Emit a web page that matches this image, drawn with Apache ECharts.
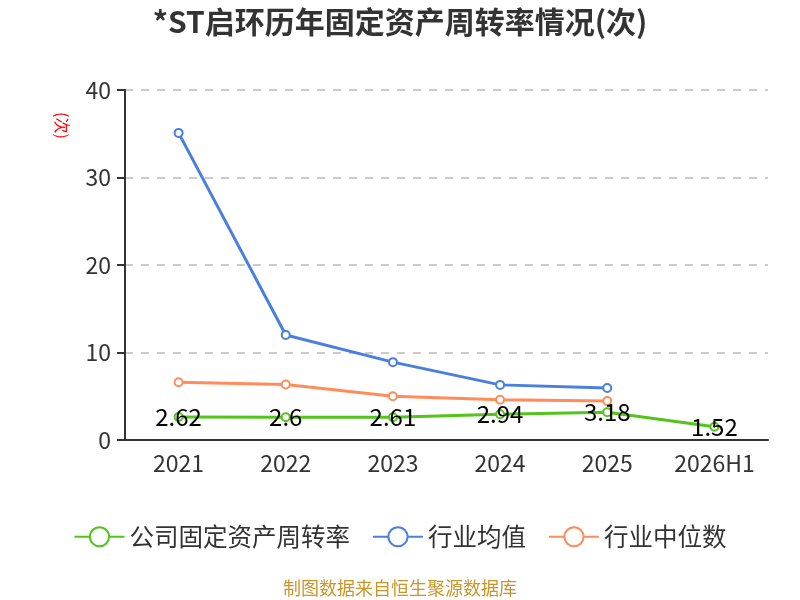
<!DOCTYPE html>
<html>
<head>
<meta charset="utf-8">
<script src="https://cdn.jsdelivr.net/npm/echarts@6/dist/echarts.min.js"></script>
<style>
  html, body { margin: 0; padding: 0; background: #fff; }
  #main { width: 800px; height: 600px; }
</style>
</head>
<body>
<div id="main"></div>
<script>
var years = ['2021', '2022', '2023', '2024', '2025', '2026H1'];
var companyRate = [2.62, 2.6, 2.61, 2.94, 3.18, 1.52];
var industryAvg = [35.1, 12.0, 8.9, 6.3, 5.95, null];
var industryMedian = [6.6, 6.35, 5.0, 4.6, 4.45, null];
var yTicks = [0, 10, 20, 30, 40];

// 初始化图表
var myChart = echarts.init(document.getElementById('main'));
var fontCN = '"Noto Sans CJK SC", "Noto Sans", sans-serif';

var option = {
    backgroundColor: '#fff',
    title: {
        text: '*ST启环历年固定资产周转率情况(次)',
        left: 'center',
        top: 2,
        textStyle: { fontSize: 30, fontWeight: 'bold', color: '#333', fontFamily: fontCN }
    },
    legend: {
        bottom: 46,
        itemWidth: 50,
        itemHeight: 24,
        itemGap: 22,
        textStyle: { fontSize: 24.5, color: '#333', fontFamily: fontCN },
        data: ['公司固定资产周转率', '行业均值', '行业中位数']
    },
    graphic: [
        {
            type: 'text',
            left: 54,
            top: 112,
            rotation: -Math.PI / 2,
            style: { text: '(次)', fill: '#ff0000', fontSize: 16, fontFamily: fontCN }
        },
        {
            type: 'text',
            left: 'center',
            bottom: 3,
            style: { text: '制图数据来自恒生聚源数据库', fill: '#c8962a', fontSize: 18, fontFamily: fontCN }
        }
    ],
    grid: { left: 125, right: 32, top: 90, bottom: 160 },
    xAxis: {
        type: 'category',
        data: years,
        axisLine: { lineStyle: { color: '#333', width: 2 } },
        axisTick: { length: 8, lineStyle: { color: '#333', width: 2 } },
        axisLabel: { interval: 0, fontSize: 23, color: '#333', margin: 12, fontFamily: fontCN }
    },
    yAxis: {
        type: 'value',
        min: yTicks[0],
        max: yTicks[yTicks.length - 1],
        interval: 10,
        axisLine: { show: true, lineStyle: { color: '#333', width: 2 } },
        axisTick: { show: true, length: 8, lineStyle: { color: '#333', width: 2 } },
        axisLabel: { fontSize: 23, color: '#333', margin: 14, fontFamily: fontCN },
        splitLine: { lineStyle: { type: [8, 8], color: '#bbb', width: 1.5 } }
    },
    series: [
        {
            name: '行业均值',
            type: 'line',
            data: industryAvg,
            symbol: 'emptyCircle',
            symbolSize: 8,
            color: '#4a7fe0',
            lineStyle: { width: 3 }
        },
        {
            name: '行业中位数',
            type: 'line',
            data: industryMedian,
            symbol: 'emptyCircle',
            symbolSize: 8,
            color: '#ff8c5a',
            lineStyle: { width: 3 }
        },
        {
            name: '公司固定资产周转率',
            type: 'line',
            data: companyRate,
            symbol: 'emptyCircle',
            symbolSize: 8,
            color: '#52c41a',
            lineStyle: { width: 3 },
            label: {
                show: true,
                position: 'inside',
                fontSize: 24,
                color: '#000',
                fontFamily: fontCN
            }
        }
    ]
};

myChart.setOption(option);
</script>
</body>
</html>
